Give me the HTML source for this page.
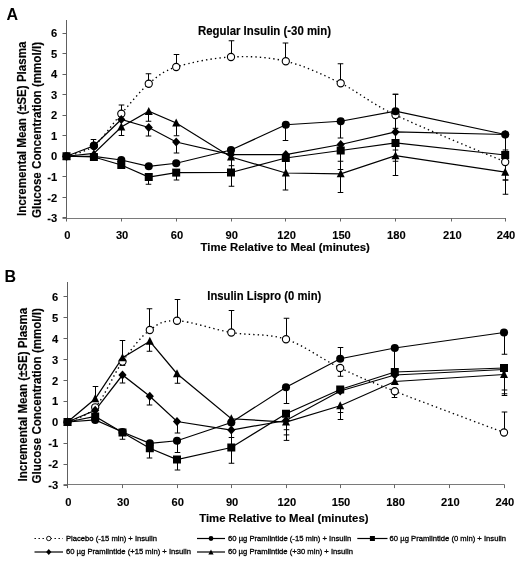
<!DOCTYPE html>
<html lang="en"><head><meta charset="utf-8"><title>Figure</title>
<style>
html,body{margin:0;padding:0;background:#fff}
body{width:520px;height:562px;overflow:hidden}
svg{display:block}
text{font-family:"Liberation Sans",Arial,sans-serif;fill:#000}
.pl{font-size:16px;font-weight:bold}
.ti{font-size:11.9px;font-weight:bold;stroke:#000;stroke-width:.15px}
.tk{font-size:11.8px;font-weight:bold;stroke:#000;stroke-width:.1px}
.lg{font-size:7.7px;stroke:#000;stroke-width:.3px}
</style></head><body>
<svg width="520" height="562" viewBox="0 0 520 562">
<rect width="520" height="562" fill="#fff"/>
<text x="6.6" y="19.8" class="pl">A</text>
<text x="4.4" y="282.2" class="pl">B</text>
<text x="264.5" y="35" text-anchor="middle" class="ti" textLength="133" lengthAdjust="spacingAndGlyphs">Regular Insulin (-30 min)</text>
<text x="264.3" y="299.5" text-anchor="middle" class="ti" textLength="114" lengthAdjust="spacingAndGlyphs">Insulin Lispro (0 min)</text>
<text x="285.2" y="251.4" text-anchor="middle" class="ti" style="font-size:11.3px" textLength="169.2" lengthAdjust="spacingAndGlyphs">Time Relative to Meal (minutes)</text>
<text x="283.85" y="521.5" text-anchor="middle" class="ti" style="font-size:11.6px" textLength="169.3" lengthAdjust="spacingAndGlyphs">Time Relative to Meal (minutes)</text>
<text transform="translate(25.8 128.75) rotate(-90)" text-anchor="middle" class="ti" textLength="174.5" lengthAdjust="spacingAndGlyphs">Incremental Mean (±SE) Plasma</text>
<text transform="translate(40.5 130) rotate(-90)" text-anchor="middle" class="ti" textLength="176" lengthAdjust="spacingAndGlyphs">Glucose Concentration (mmol/l)</text>
<text transform="translate(27.3 394.65) rotate(-90)" text-anchor="middle" class="ti" textLength="173.7" lengthAdjust="spacingAndGlyphs">Incremental Mean (±SE) Plasma</text>
<text transform="translate(41.3 395.8) rotate(-90)" text-anchor="middle" class="ti" textLength="175.2" lengthAdjust="spacingAndGlyphs">Glucose Concentration (mmol/l)</text>
<path d="M62.5 218.5H505.7" stroke="#7a7a7a" stroke-width="1" fill="none"/>
<path d="M66.5 20V221.5" stroke="#606060" stroke-width="1" fill="none"/>
<path d="M62.5 33.5H66.5M62.5 53.5H66.5M62.5 74.5H66.5M62.5 94.5H66.5M62.5 115.5H66.5M62.5 135.5H66.5M62.5 156.5H66.5M62.5 176.5H66.5M62.5 197.5H66.5M62.5 217.5H66.5" stroke="#606060" stroke-width="1" fill="none"/>
<path d="M121.5 218v3.5M176.5 218v3.5M231.5 218v3.5M285.5 218v3.5M340.5 218v3.5M395.5 218v3.5M451.5 218v3.5M505.5 218v3.5" stroke="#666" stroke-width="1" fill="none"/>
<text transform="translate(57.2 37.1) scale(.95 1)" text-anchor="end" class="tk">6</text>
<text transform="translate(57.2 57.65) scale(.95 1)" text-anchor="end" class="tk">5</text>
<text transform="translate(57.2 78.2) scale(.95 1)" text-anchor="end" class="tk">4</text>
<text transform="translate(57.2 98.75) scale(.95 1)" text-anchor="end" class="tk">3</text>
<text transform="translate(57.2 119.3) scale(.95 1)" text-anchor="end" class="tk">2</text>
<text transform="translate(57.2 139.85) scale(.95 1)" text-anchor="end" class="tk">1</text>
<text transform="translate(57.2 160.4) scale(.95 1)" text-anchor="end" class="tk">0</text>
<text transform="translate(57.2 180.95) scale(.95 1)" text-anchor="end" class="tk">-1</text>
<text transform="translate(57.2 201.5) scale(.95 1)" text-anchor="end" class="tk">-2</text>
<text transform="translate(57.2 222.05) scale(.95 1)" text-anchor="end" class="tk">-3</text>
<text transform="translate(67.3 239.4) scale(.95 1)" text-anchor="middle" class="tk">0</text>
<text transform="translate(122.1 239.4) scale(.95 1)" text-anchor="middle" class="tk">30</text>
<text transform="translate(177 239.4) scale(.95 1)" text-anchor="middle" class="tk">60</text>
<text transform="translate(231.8 239.4) scale(.95 1)" text-anchor="middle" class="tk">90</text>
<text transform="translate(286.6 239.4) scale(.95 1)" text-anchor="middle" class="tk">120</text>
<text transform="translate(341.5 239.4) scale(.95 1)" text-anchor="middle" class="tk">150</text>
<text transform="translate(396.3 239.4) scale(.95 1)" text-anchor="middle" class="tk">180</text>
<text transform="translate(452.3 239.4) scale(.95 1)" text-anchor="middle" class="tk">210</text>
<text transform="translate(506 239.4) scale(.95 1)" text-anchor="middle" class="tk">240</text>
<path d="M121.5 113.75V105M118.7 105h5.6M148.5 83.75V73.75M145.7 73.75h5.6M176.5 67V54.5M173.7 54.5h5.6M231.5 57V40.75M228.7 40.75h5.6M285.5 61.25V43M282.7 43h5.6M340.5 83.25V63.75M337.7 63.75h5.6M395.5 115V94.25M392.7 94.25h5.6M505.5 162V180M502.7 180h5.6M285.5 124.75V140.5M282.7 140.5h5.6M340.5 121.25V138M337.7 138h5.6M395.5 111.25V94.25M392.7 94.25h5.6M505.5 134.5V150M502.7 150h5.6M148.5 177V184.25M145.7 184.25h5.6M176.5 172.6V180M173.7 180h5.6M231.5 172.5V186.25M228.7 186.25h5.6M340.5 150.5V169.5M337.7 169.5h5.6M395.5 143V161.25M392.7 161.25h5.6M505.5 155V180M502.7 180h5.6M93.5 145.75V139.5M90.7 139.5h5.6M148.5 127.5V136M145.7 136h5.6M176.5 142V153M173.7 153h5.6M340.5 144.5V161.25M337.7 161.25h5.6M395.5 132V150M392.7 150h5.6M121.5 127V135.5M118.7 135.5h5.6M148.5 111.3V121.25M145.7 121.25h5.6M176.5 123V135.75M173.7 135.75h5.6M285.5 173V190M282.7 190h5.6M340.5 173.75V192.5M337.7 192.5h5.6M395.5 155.75V175.5M392.7 175.5h5.6M505.5 172.2V194.25M502.7 194.25h5.6M231.5 150V172.5M228.7 165.7h5.6M285.5 158V173M395.5 111V130M392.7 128.3h5.6M505.5 134.5V170.5" stroke="#000" stroke-width="1" fill="none"/>
<path d="M66.5 156.25C71.07 154.5 84.77 152.83 93.9 145.75C103.03 138.67 112.16 124.08 121.3 113.75C130.44 103.42 139.6 91.54 148.75 83.75C157.9 75.96 162.49 71.46 176.2 67C189.91 62.54 212.73 57.96 231 57C249.27 56.04 267.52 56.88 285.8 61.25C304.08 65.62 322.42 74.29 340.7 83.25C358.98 92.21 368.08 101.88 395.5 115C422.92 128.12 486.92 154.17 505.2 162" fill="none" stroke="#000" stroke-width="1.35" stroke-dasharray="1.4 3.1"/>
<polyline points="66.5,156.25 93.9,153.4 121.3,127 148.75,111.3 176.2,123 231,157 285.8,173 340.7,173.75 395.5,155.75 505.2,172.2" fill="none" stroke="#000" stroke-width="1.25"/>
<polyline points="66.5,156.25 93.9,145.75 121.3,119.5 148.75,127.5 176.2,142 231,154.5 285.8,154.5 340.7,144.5 395.5,132 505.2,134.5" fill="none" stroke="#000" stroke-width="1.25"/>
<polyline points="66.5,156.25 93.9,157 121.3,165 148.75,177 176.2,172.6 231,172.5 285.8,158 340.7,150.5 395.5,143 505.2,155" fill="none" stroke="#000" stroke-width="1.25"/>
<polyline points="66.5,156.25 93.9,156.3 121.3,160 148.75,166.25 176.2,163.25 231,150 285.8,124.75 340.7,121.25 395.5,111.25 505.2,134.5" fill="none" stroke="#000" stroke-width="1.25"/>
<circle cx="93.9" cy="145.75" r="3.6" fill="#fff" stroke="#000" stroke-width="1.1"/>
<circle cx="121.3" cy="113.75" r="3.6" fill="#fff" stroke="#000" stroke-width="1.1"/>
<circle cx="148.75" cy="83.75" r="3.6" fill="#fff" stroke="#000" stroke-width="1.1"/>
<circle cx="176.2" cy="67" r="3.6" fill="#fff" stroke="#000" stroke-width="1.1"/>
<circle cx="231" cy="57" r="3.6" fill="#fff" stroke="#000" stroke-width="1.1"/>
<circle cx="285.8" cy="61.25" r="3.6" fill="#fff" stroke="#000" stroke-width="1.1"/>
<circle cx="340.7" cy="83.25" r="3.6" fill="#fff" stroke="#000" stroke-width="1.1"/>
<circle cx="395.5" cy="115" r="3.6" fill="#fff" stroke="#000" stroke-width="1.1"/>
<circle cx="505.2" cy="162" r="3.6" fill="#fff" stroke="#000" stroke-width="1.1"/>
<path d="M66.5 151.75L70.6 156.25L66.5 160.75L62.4 156.25Z" fill="#000"/>
<path d="M93.9 141.25L98 145.75L93.9 150.25L89.8 145.75Z" fill="#000"/>
<path d="M121.3 115L125.4 119.5L121.3 124L117.2 119.5Z" fill="#000"/>
<path d="M148.75 123L152.85 127.5L148.75 132L144.65 127.5Z" fill="#000"/>
<path d="M176.2 137.5L180.3 142L176.2 146.5L172.1 142Z" fill="#000"/>
<path d="M231 150L235.1 154.5L231 159L226.9 154.5Z" fill="#000"/>
<path d="M285.8 150L289.9 154.5L285.8 159L281.7 154.5Z" fill="#000"/>
<path d="M340.7 140L344.8 144.5L340.7 149L336.6 144.5Z" fill="#000"/>
<path d="M395.5 127.5L399.6 132L395.5 136.5L391.4 132Z" fill="#000"/>
<path d="M505.2 130L509.3 134.5L505.2 139L501.1 134.5Z" fill="#000"/>
<rect x="62.5" y="152.25" width="8" height="8" fill="#000"/>
<rect x="89.9" y="153" width="8" height="8" fill="#000"/>
<rect x="117.3" y="161" width="8" height="8" fill="#000"/>
<rect x="144.75" y="173" width="8" height="8" fill="#000"/>
<rect x="172.2" y="168.6" width="8" height="8" fill="#000"/>
<rect x="227" y="168.5" width="8" height="8" fill="#000"/>
<rect x="281.8" y="154" width="8" height="8" fill="#000"/>
<rect x="336.7" y="146.5" width="8" height="8" fill="#000"/>
<rect x="391.5" y="139" width="8" height="8" fill="#000"/>
<rect x="501.2" y="151" width="8" height="8" fill="#000"/>
<path d="M66.5 151.85L70.5 159.85L62.5 159.85Z" fill="#000"/>
<path d="M93.9 149L97.9 157L89.9 157Z" fill="#000"/>
<path d="M121.3 122.6L125.3 130.6L117.3 130.6Z" fill="#000"/>
<path d="M148.75 106.9L152.75 114.9L144.75 114.9Z" fill="#000"/>
<path d="M176.2 118.6L180.2 126.6L172.2 126.6Z" fill="#000"/>
<path d="M231 152.6L235 160.6L227 160.6Z" fill="#000"/>
<path d="M285.8 168.6L289.8 176.6L281.8 176.6Z" fill="#000"/>
<path d="M340.7 169.35L344.7 177.35L336.7 177.35Z" fill="#000"/>
<path d="M395.5 151.35L399.5 159.35L391.5 159.35Z" fill="#000"/>
<path d="M505.2 167.8L509.2 175.8L501.2 175.8Z" fill="#000"/>
<circle cx="66.5" cy="156.25" r="4.05" fill="#000"/>
<circle cx="93.9" cy="156.3" r="4.05" fill="#000"/>
<circle cx="121.3" cy="160" r="4.05" fill="#000"/>
<circle cx="148.75" cy="166.25" r="4.05" fill="#000"/>
<circle cx="176.2" cy="163.25" r="4.05" fill="#000"/>
<circle cx="231" cy="150" r="4.05" fill="#000"/>
<circle cx="285.8" cy="124.75" r="4.05" fill="#000"/>
<circle cx="340.7" cy="121.25" r="4.05" fill="#000"/>
<circle cx="395.5" cy="111.25" r="4.05" fill="#000"/>
<circle cx="505.2" cy="134.5" r="4.05" fill="#000"/>
<circle cx="93.9" cy="145.75" r="4.05" fill="#000"/>
<path d="M63.5 484.5H504.5" stroke="#7a7a7a" stroke-width="1" fill="none"/>
<path d="M67.5 282V488.1" stroke="#606060" stroke-width="1" fill="none"/>
<path d="M63.5 296.5H67.5M63.5 317.5H67.5M63.5 338.5H67.5M63.5 359.5H67.5M63.5 380.5H67.5M63.5 401.5H67.5M63.5 422.5H67.5M63.5 443.5H67.5M63.5 464.5H67.5M63.5 485.5H67.5" stroke="#606060" stroke-width="1" fill="none"/>
<path d="M122.5 484.6v3.5M177.5 484.6v3.5M231.5 484.6v3.5M286.5 484.6v3.5M340.5 484.6v3.5M394.5 484.6v3.5M449.5 484.6v3.5M504.5 484.6v3.5" stroke="#666" stroke-width="1" fill="none"/>
<text transform="translate(58.2 300.85) scale(.95 1)" text-anchor="end" class="tk">6</text>
<text transform="translate(58.2 321.77) scale(.95 1)" text-anchor="end" class="tk">5</text>
<text transform="translate(58.2 342.69) scale(.95 1)" text-anchor="end" class="tk">4</text>
<text transform="translate(58.2 363.61) scale(.95 1)" text-anchor="end" class="tk">3</text>
<text transform="translate(58.2 384.53) scale(.95 1)" text-anchor="end" class="tk">2</text>
<text transform="translate(58.2 405.45) scale(.95 1)" text-anchor="end" class="tk">1</text>
<text transform="translate(58.2 426.37) scale(.95 1)" text-anchor="end" class="tk">0</text>
<text transform="translate(58.2 447.29) scale(.95 1)" text-anchor="end" class="tk">-1</text>
<text transform="translate(58.2 468.21) scale(.95 1)" text-anchor="end" class="tk">-2</text>
<text transform="translate(58.2 489.13) scale(.95 1)" text-anchor="end" class="tk">-3</text>
<text transform="translate(68.3 506) scale(.95 1)" text-anchor="middle" class="tk">0</text>
<text transform="translate(123.3 506) scale(.95 1)" text-anchor="middle" class="tk">30</text>
<text transform="translate(177.8 506) scale(.95 1)" text-anchor="middle" class="tk">60</text>
<text transform="translate(232.1 506) scale(.95 1)" text-anchor="middle" class="tk">90</text>
<text transform="translate(286.8 506) scale(.95 1)" text-anchor="middle" class="tk">120</text>
<text transform="translate(341 506) scale(.95 1)" text-anchor="middle" class="tk">150</text>
<text transform="translate(395.6 506) scale(.95 1)" text-anchor="middle" class="tk">180</text>
<text transform="translate(450.3 506) scale(.95 1)" text-anchor="middle" class="tk">210</text>
<text transform="translate(504.8 506) scale(.95 1)" text-anchor="middle" class="tk">240</text>
<path d="M122.5 361.6V365.4M119.7 365.4h5.6M149.5 330V308.75M146.7 308.75h5.6M177.5 320.75V299.5M174.7 299.5h5.6M231.5 332.5V310.5M228.7 310.5h5.6M286.5 339.25V318.25M283.7 318.25h5.6M340.5 368V376.25M337.7 376.25h5.6M394.5 391.25V397.5M391.7 397.5h5.6M504.5 432.5V412M501.7 412h5.6M177.5 440.75V452.5M174.7 452.5h5.6M286.5 387.25V403.5M283.7 403.5h5.6M340.5 358.75V347.5M337.7 347.5h5.6M394.5 348V372M391.7 372h5.6M504.5 332.5V354.25M501.7 354.25h5.6M122.5 432.5V439.25M119.7 439.25h5.6M149.5 448.25V458M146.7 458h5.6M177.5 459.5V470M174.7 470h5.6M231.5 447.5V463.25M228.7 463.25h5.6M286.5 413.75V429.7M283.7 429.7h5.6M504.5 368V390M501.7 390h5.6M122.5 375V383M119.7 383h5.6M149.5 396.25V405M146.7 405h5.6M177.5 421.5V433M174.7 433h5.6M231.5 430V437.5M228.7 437.5h5.6M286.5 420.5V434.9M283.7 434.9h5.6M504.5 369.5V393.75M501.7 393.75h5.6M95.5 398.75V386.5M92.7 386.5h5.6M122.5 357.6V340.5M119.7 340.5h5.6M149.5 341.25V351.25M146.7 351.25h5.6M177.5 373.75V383.25M174.7 383.25h5.6M286.5 422V440.4M283.7 440.4h5.6M340.5 405.75V419.5M337.7 419.5h5.6M504.5 374.5V395.5M501.7 395.5h5.6M337.7 412.5h5.6M231.5 437.5V447.5" stroke="#000" stroke-width="1" fill="none"/>
<path d="M67.5 422C72.12 419.55 86.03 417.37 95.2 407.3C104.37 397.23 113.4 374.48 122.5 361.6C131.6 348.72 140.72 336.81 149.8 330C158.88 323.19 163.42 320.33 177 320.75C190.58 321.17 213.13 329.42 231.3 332.5C249.47 335.58 267.85 333.33 286 339.25C304.15 345.17 322.07 359.33 340.2 368C358.33 376.67 367.5 380.5 394.8 391.25C422.1 402 485.8 425.62 504 432.5" fill="none" stroke="#000" stroke-width="1.35" stroke-dasharray="1.4 3.1"/>
<polyline points="67.5,422 95.2,398.75 122.5,357.6 149.8,341.25 177,373.75 231.3,418.75 286,422 340.2,405.75 394.8,381.5 504,374.5" fill="none" stroke="#000" stroke-width="1.25"/>
<polyline points="67.5,422 95.2,410.3 122.5,375 149.8,396.25 177,421.5 231.3,430 286,420.5 340.2,391 394.8,375 504,369.5" fill="none" stroke="#000" stroke-width="1.25"/>
<polyline points="67.5,422 95.2,416.5 122.5,432.5 149.8,448.25 177,459.5 231.3,447.5 286,413.75 340.2,389.5 394.8,372 504,368" fill="none" stroke="#000" stroke-width="1.25"/>
<polyline points="67.5,422 95.2,420 122.5,432 149.8,443.25 177,440.75 231.3,422.5 286,387.25 340.2,358.75 394.8,348 504,332.5" fill="none" stroke="#000" stroke-width="1.25"/>
<circle cx="95.2" cy="407.3" r="3.6" fill="#fff" stroke="#000" stroke-width="1.1"/>
<circle cx="122.5" cy="361.6" r="3.6" fill="#fff" stroke="#000" stroke-width="1.1"/>
<circle cx="149.8" cy="330" r="3.6" fill="#fff" stroke="#000" stroke-width="1.1"/>
<circle cx="177" cy="320.75" r="3.6" fill="#fff" stroke="#000" stroke-width="1.1"/>
<circle cx="231.3" cy="332.5" r="3.6" fill="#fff" stroke="#000" stroke-width="1.1"/>
<circle cx="286" cy="339.25" r="3.6" fill="#fff" stroke="#000" stroke-width="1.1"/>
<circle cx="340.2" cy="368" r="3.6" fill="#fff" stroke="#000" stroke-width="1.1"/>
<circle cx="394.8" cy="391.25" r="3.6" fill="#fff" stroke="#000" stroke-width="1.1"/>
<circle cx="504" cy="432.5" r="3.6" fill="#fff" stroke="#000" stroke-width="1.1"/>
<path d="M67.5 417.5L71.6 422L67.5 426.5L63.4 422Z" fill="#000"/>
<path d="M95.2 405.8L99.3 410.3L95.2 414.8L91.1 410.3Z" fill="#000"/>
<path d="M122.5 370.5L126.6 375L122.5 379.5L118.4 375Z" fill="#000"/>
<path d="M149.8 391.75L153.9 396.25L149.8 400.75L145.7 396.25Z" fill="#000"/>
<path d="M177 417L181.1 421.5L177 426L172.9 421.5Z" fill="#000"/>
<path d="M231.3 425.5L235.4 430L231.3 434.5L227.2 430Z" fill="#000"/>
<path d="M286 416L290.1 420.5L286 425L281.9 420.5Z" fill="#000"/>
<path d="M340.2 386.5L344.3 391L340.2 395.5L336.1 391Z" fill="#000"/>
<path d="M394.8 370.5L398.9 375L394.8 379.5L390.7 375Z" fill="#000"/>
<path d="M504 365L508.1 369.5L504 374L499.9 369.5Z" fill="#000"/>
<rect x="63.5" y="418" width="8" height="8" fill="#000"/>
<rect x="91.2" y="412.5" width="8" height="8" fill="#000"/>
<rect x="118.5" y="428.5" width="8" height="8" fill="#000"/>
<rect x="145.8" y="444.25" width="8" height="8" fill="#000"/>
<rect x="173" y="455.5" width="8" height="8" fill="#000"/>
<rect x="227.3" y="443.5" width="8" height="8" fill="#000"/>
<rect x="282" y="409.75" width="8" height="8" fill="#000"/>
<rect x="336.2" y="385.5" width="8" height="8" fill="#000"/>
<rect x="390.8" y="368" width="8" height="8" fill="#000"/>
<rect x="500" y="364" width="8" height="8" fill="#000"/>
<path d="M67.5 417.6L71.5 425.6L63.5 425.6Z" fill="#000"/>
<path d="M95.2 394.35L99.2 402.35L91.2 402.35Z" fill="#000"/>
<path d="M122.5 353.2L126.5 361.2L118.5 361.2Z" fill="#000"/>
<path d="M149.8 336.85L153.8 344.85L145.8 344.85Z" fill="#000"/>
<path d="M177 369.35L181 377.35L173 377.35Z" fill="#000"/>
<path d="M231.3 414.35L235.3 422.35L227.3 422.35Z" fill="#000"/>
<path d="M286 417.6L290 425.6L282 425.6Z" fill="#000"/>
<path d="M340.2 401.35L344.2 409.35L336.2 409.35Z" fill="#000"/>
<path d="M394.8 377.1L398.8 385.1L390.8 385.1Z" fill="#000"/>
<path d="M504 370.1L508 378.1L500 378.1Z" fill="#000"/>
<circle cx="67.5" cy="422" r="4.05" fill="#000"/>
<circle cx="95.2" cy="420" r="4.05" fill="#000"/>
<circle cx="122.5" cy="432" r="4.05" fill="#000"/>
<circle cx="149.8" cy="443.25" r="4.05" fill="#000"/>
<circle cx="177" cy="440.75" r="4.05" fill="#000"/>
<circle cx="231.3" cy="422.5" r="4.05" fill="#000"/>
<circle cx="286" cy="387.25" r="4.05" fill="#000"/>
<circle cx="340.2" cy="358.75" r="4.05" fill="#000"/>
<circle cx="394.8" cy="348" r="4.05" fill="#000"/>
<circle cx="504" cy="332.5" r="4.05" fill="#000"/>
<path d="M34.5 538.5H63" stroke="#000" stroke-width="1.1" stroke-dasharray="1.4 2.6"/>
<circle cx="48.75" cy="538.5" r="2.2" fill="#fff" stroke="#000" stroke-width="0.9"/>
<text x="66" y="540.5" class="lg" textLength="91" lengthAdjust="spacingAndGlyphs">Placebo (-15 min) + Insulin</text>
<path d="M34.5 552H63" stroke="#000" stroke-width="1.2"/>
<path d="M48.75 549l2.6 3l-2.6 3l-2.6 -3Z" fill="#000"/>
<text x="66" y="554" class="lg" textLength="125" lengthAdjust="spacingAndGlyphs">60 µg Pramlintide (+15 min) + Insulin</text>
<path d="M197 538.5H225" stroke="#000" stroke-width="1.2"/>
<circle cx="211.0" cy="538.5" r="2.4" fill="#000"/>
<text x="228" y="540.5" class="lg" textLength="123.2" lengthAdjust="spacingAndGlyphs">60 µg Pramlintide (-15 min) + Insulin</text>
<path d="M197 552H225" stroke="#000" stroke-width="1.2"/>
<path d="M211.0 549.4l2.6 5h-5.2Z" fill="#000"/>
<text x="228" y="554" class="lg" textLength="125" lengthAdjust="spacingAndGlyphs">60 µg Pramlintide (+30 min) + Insulin</text>
<path d="M357.3 538.5H387.5" stroke="#000" stroke-width="1.2"/>
<rect x="369.9" y="536.0" width="5" height="5" fill="#000"/>
<text x="389.6" y="540.5" class="lg" textLength="116.5" lengthAdjust="spacingAndGlyphs">60 µg Pramlintide (0 min) + Insulin</text>
</svg>
</body></html>
